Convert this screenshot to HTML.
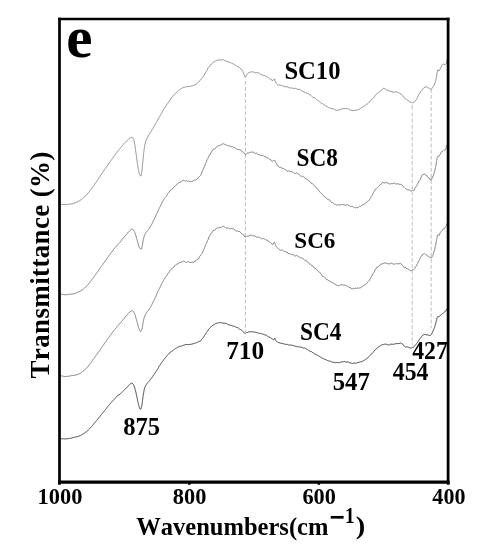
<!DOCTYPE html>
<html><head><meta charset="utf-8"><title>e</title>
<style>
html,body{margin:0;padding:0;background:#fff;}
svg{display:block;}
text{font-family:"Liberation Serif",serif;font-weight:bold;fill:#000;font-kerning:none;}
</style></head>
<body>
<svg width="478" height="550" viewBox="0 0 478 550">
<rect width="478" height="550" fill="#fff"/>
<!-- dashed guides -->
<g stroke="#adadad" stroke-width="0.8" stroke-dasharray="3.9,2.17" fill="none">
<line x1="245.4" y1="81" x2="245.4" y2="332.3"/>
<line x1="412.2" y1="104.9" x2="412.2" y2="109.3" stroke-dasharray="none"/>
<line x1="412.2" y1="112.6" x2="412.2" y2="344.6"/>
<line x1="431.2" y1="88.9" x2="431.2" y2="327.8"/>
</g>
<path d="M61.1,204.4 61.5,204.5 62.0,204.5 62.7,204.5 63.4,204.5 64.1,204.6 64.8,204.6 65.4,204.5 66.0,204.5 66.6,204.5 67.3,204.4 67.9,204.4 68.6,204.3 69.2,204.2 69.8,204.1 70.5,204.0 71.1,203.9 71.7,203.8 72.3,203.7 73.0,203.5 73.6,203.3 74.2,203.1 74.9,202.9 75.5,202.7 76.1,202.4 76.7,202.2 77.4,201.9 78.0,201.5 78.5,201.3 79.1,200.9 79.7,200.6 80.2,200.3 80.8,199.9 81.3,199.5 81.8,199.1 82.4,198.7 82.9,198.3 83.4,197.9 83.9,197.4 84.4,197.0 84.9,196.5 85.3,196.0 85.8,195.5 86.3,195.0 86.8,194.5 87.2,194.0 87.7,193.5 88.1,193.0 88.5,192.5 89.0,192.0 89.4,191.5 89.8,190.9 90.2,190.4 90.7,189.8 91.1,189.3 91.5,188.8 91.9,188.2 92.3,187.7 92.7,187.1 93.1,186.6 93.5,186.0 93.9,185.5 94.3,184.9 94.7,184.3 95.1,183.7 95.5,183.2 95.9,182.6 96.2,182.1 96.6,181.5 97.0,181.0 97.3,180.5 97.7,179.9 98.1,179.3 98.4,178.8 98.8,178.2 99.2,177.7 99.5,177.1 99.9,176.6 100.3,176.0 100.6,175.5 101.0,174.9 101.4,174.4 101.7,173.8 102.1,173.2 102.5,172.7 102.8,172.1 103.2,171.6 103.6,171.0 103.9,170.5 104.3,169.9 104.7,169.4 105.1,168.8 105.5,168.2 105.9,167.7 106.3,167.1 106.7,166.6 107.1,166.0 107.5,165.5 107.9,164.9 108.3,164.4 108.7,163.8 109.1,163.3 109.5,162.7 109.9,162.1 110.3,161.5 110.7,161.0 111.1,160.4 111.5,159.8 111.9,159.2 112.3,158.6 112.7,158.1 113.1,157.5 113.5,156.9 113.9,156.4 114.4,155.8 114.8,155.2 115.2,154.7 115.6,154.1 116.0,153.6 116.4,153.0 116.8,152.6 117.2,152.1 117.5,151.7 118.0,151.0 118.4,150.4 118.8,149.9 119.2,149.5 119.5,149.0 120.0,148.4 120.4,147.9 120.8,147.4 121.3,146.9 121.7,146.3 122.2,145.8 122.7,145.2 123.1,144.7 123.6,144.1 124.1,143.6 124.5,143.1 125.0,142.6 125.5,142.2 126.0,141.7 126.4,141.3 126.9,140.8 127.3,140.4 127.9,139.9 128.5,139.3 129.0,138.8 129.5,138.4 130.0,138.0 130.7,137.5 131.3,137.3 131.8,137.3 132.3,137.5 132.8,137.9 133.3,138.6 133.5,139.1 133.7,139.5 133.8,140.1 134.0,140.7 134.1,141.4 134.3,142.2 134.5,143.1 134.6,143.7 134.7,144.2 134.8,144.8 134.9,145.4 135.0,146.0 135.1,146.7 135.2,147.4 135.3,148.1 135.4,148.8 135.5,149.5 135.6,150.3 135.7,151.0 135.8,151.7 135.9,152.4 136.0,153.1 136.1,153.8 136.2,154.5 136.3,155.2 136.4,155.9 136.5,156.6 136.6,157.3 136.7,158.0 136.7,158.7 136.8,159.4 136.9,160.1 137.0,160.8 137.1,161.5 137.2,162.1 137.3,162.8 137.4,163.4 137.5,164.0 137.6,164.8 137.7,165.6 137.9,166.4 138.0,167.1 138.1,167.9 138.2,168.6 138.4,169.3 138.5,170.0 138.6,170.7 138.7,171.3 138.9,171.9 139.0,172.4 139.1,172.8 139.4,173.8 139.7,174.5 139.9,175.0 140.2,175.3 140.4,175.6 140.7,176.1 141.0,175.9 141.2,175.1 141.5,173.8 141.6,173.4 141.6,172.9 141.7,172.3 141.8,171.8 141.9,171.2 141.9,170.5 142.0,169.8 142.1,169.1 142.2,168.4 142.2,167.7 142.3,166.9 142.4,166.2 142.5,165.4 142.5,164.7 142.6,163.9 142.7,163.2 142.8,162.6 142.8,161.9 142.9,161.3 143.0,160.6 143.0,159.9 143.1,159.2 143.2,158.5 143.2,157.8 143.3,157.1 143.4,156.3 143.4,155.6 143.5,154.9 143.6,154.2 143.6,153.6 143.7,152.9 143.8,152.3 143.9,151.7 143.9,151.1 144.0,150.5 144.1,149.6 144.2,148.8 144.4,148.0 144.5,147.3 144.6,146.6 144.7,145.9 144.8,145.2 145.0,144.6 145.1,144.0 145.2,143.4 145.4,142.8 145.5,142.3 145.7,141.5 146.0,140.7 146.2,140.1 146.4,139.5 146.7,139.0 147.0,138.4 147.3,137.8 147.6,137.2 147.9,136.7 148.2,136.1 148.6,135.5 148.9,134.9 149.3,134.3 149.7,133.7 150.0,133.2 150.3,132.6 150.7,132.1 151.0,131.6 151.3,131.0 151.6,130.5 152.0,129.9 152.3,129.3 152.7,128.7 153.0,128.2 153.3,127.6 153.6,127.1 154.0,126.5 154.3,125.9 154.7,125.3 155.0,124.7 155.4,124.1 155.7,123.5 156.1,122.9 156.4,122.3 156.7,121.7 157.1,121.1 157.4,120.6 157.7,120.0 158.0,119.4 158.4,118.7 158.7,118.2 159.0,117.6 159.3,117.1 159.7,116.5 160.0,115.9 160.3,115.3 160.7,114.8 161.0,114.2 161.3,113.6 161.6,113.0 162.0,112.5 162.3,112.0 162.6,111.4 162.9,110.7 163.3,110.1 163.6,109.5 164.0,108.9 164.3,108.3 164.7,107.7 165.1,107.2 165.4,106.6 165.8,106.1 166.2,105.6 166.6,105.0 166.9,104.5 167.3,104.0 167.7,103.5 168.1,102.9 168.5,102.2 168.9,101.6 169.3,101.0 169.7,100.5 170.1,99.8 170.5,99.0 170.9,98.4 171.3,97.8 171.7,97.4 172.1,97.1 172.5,96.8 172.9,96.2 173.3,95.7 173.7,95.2 174.1,94.8 174.5,94.3 175.0,93.8 175.4,93.3 175.9,92.9 176.3,92.6 176.8,92.2 177.3,91.7 177.7,91.3 178.2,90.8 178.7,90.4 179.2,90.0 179.7,89.6 180.3,89.2 180.8,88.8 181.3,88.6 181.8,88.3 182.4,87.8 183.0,87.6 183.7,87.6 184.3,87.5 184.9,87.1 185.5,86.6 186.1,86.7 186.7,86.8 187.3,86.6 187.9,86.5 188.5,86.5 189.1,86.5 189.7,86.5 190.3,86.6 190.9,86.4 191.5,85.9 192.1,85.6 192.7,85.8 193.3,85.7 193.9,85.3 194.6,84.9 195.2,84.7 195.8,84.6 196.4,84.2 196.9,83.8 197.3,83.3 197.8,82.8 198.2,82.2 198.7,81.9 199.1,81.6 199.6,81.0 200.0,80.4 200.4,79.9 200.8,79.3 201.3,78.8 201.7,78.5 202.1,78.2 202.5,77.7 202.9,76.9 203.3,76.3 203.6,76.1 204.0,75.5 204.3,74.8 204.7,74.0 205.0,73.2 205.3,72.7 205.7,72.4 206.0,71.9 206.4,71.3 206.7,70.9 207.1,70.3 207.5,69.2 207.9,68.1 208.4,67.5 208.8,67.2 209.2,67.0 209.6,66.3 210.0,65.5 210.5,65.1 211.0,64.8 211.5,64.1 211.9,63.6 212.4,63.4 212.9,62.8 213.4,62.2 214.0,61.8 214.5,61.4 215.1,61.1 215.6,61.0 216.1,60.9 216.7,60.5 217.4,60.2 218.1,60.1 218.7,59.9 219.4,59.9 220.1,59.9 220.8,60.0 221.4,60.0 222.1,59.8 222.7,59.5 223.4,59.8 224.0,60.2 224.5,60.4 225.1,60.5 225.7,60.7 226.2,61.0 226.8,61.3 227.4,61.5 227.9,61.7 228.4,62.0 229.0,62.2 229.5,62.3 230.1,62.6 230.7,62.7 231.2,62.9 231.8,63.3 232.4,63.5 232.9,63.7 233.5,64.0 234.1,64.3 234.6,64.8 235.2,65.1 235.7,65.3 236.2,65.5 236.8,66.0 237.4,66.5 238.0,66.7 238.5,66.9 239.1,67.3 239.7,67.6 240.2,68.2 240.7,68.8 241.1,69.1 241.6,69.3 242.0,69.7 242.3,70.4 242.7,71.3 243.0,71.9 243.3,72.4 243.5,72.9 243.8,73.5 244.0,74.4 244.2,75.1 244.4,75.5 244.7,76.3 244.8,77.1 245.0,77.3 245.2,77.2 245.4,77.1 245.7,77.0 245.9,76.6 246.2,76.0 246.5,75.3 246.8,74.9 247.2,74.4 247.6,73.6 248.0,73.2 248.5,72.9 249.0,72.6 249.5,72.4 250.1,72.1 250.7,72.0 251.3,71.9 251.9,71.8 252.6,71.8 253.2,72.0 253.9,72.2 254.5,72.6 255.2,72.9 255.9,72.8 256.6,72.7 257.2,72.7 257.9,72.8 258.6,72.9 259.2,73.1 259.7,73.6 260.3,74.1 260.9,74.5 261.4,74.8 261.9,74.8 262.6,75.0 263.1,75.3 263.7,75.4 264.4,75.5 264.9,75.7 265.5,75.9 266.1,76.3 266.7,76.9 267.3,77.2 267.8,77.2 268.4,77.6 268.9,78.1 269.4,78.5 269.8,78.9 270.3,79.3 270.9,79.5 271.4,79.8 271.9,80.2 272.3,80.5 273.0,80.3 273.6,80.0 274.1,79.5 274.5,78.9 274.7,79.1 274.8,80.0 275.0,81.0 275.3,81.7 275.6,81.8 275.9,82.3 276.2,82.9 276.5,83.5 276.9,83.9 277.3,84.4 277.9,84.9 278.4,85.0 279.1,85.0 280.0,85.1 280.5,85.2 281.1,85.5 281.7,85.7 282.4,85.9 283.1,86.0 283.8,86.2 284.5,86.8 285.1,86.9 285.8,86.6 286.4,86.6 287.1,86.8 287.7,87.1 288.3,87.4 289.0,87.7 289.6,87.9 290.2,87.9 290.9,87.9 291.5,88.0 292.1,88.1 292.8,88.2 293.4,88.5 294.1,88.5 294.7,88.3 295.4,88.3 296.0,88.6 296.7,89.0 297.3,89.2 297.9,89.3 298.6,89.4 299.2,89.4 299.9,89.4 300.5,89.8 301.2,90.3 301.8,90.8 302.5,91.3 303.1,91.5 303.7,91.8 304.3,92.1 304.8,92.3 305.4,92.5 306.0,92.8 306.6,93.0 307.2,93.3 307.7,93.5 308.3,93.7 308.9,94.1 309.5,94.5 310.0,95.1 310.6,95.3 311.2,95.7 311.7,96.3 312.3,96.8 312.9,97.2 313.5,97.5 314.0,97.6 314.6,97.7 315.1,98.3 315.6,98.9 316.2,99.3 316.7,99.7 317.2,100.0 317.8,100.3 318.3,100.7 318.8,101.3 319.3,101.7 319.9,102.1 320.4,102.5 321.0,102.9 321.6,103.3 322.1,103.6 322.7,103.7 323.3,104.2 323.9,104.8 324.5,105.2 325.0,105.5 325.6,105.9 326.2,106.3 326.8,106.5 327.4,106.8 327.9,107.0 328.5,107.4 329.1,107.9 329.7,108.1 330.3,108.1 330.8,108.3 331.4,108.5 332.0,108.6 332.6,108.6 333.3,108.8 334.0,109.2 334.6,109.6 335.3,110.0 335.9,110.2 336.6,110.3 337.1,110.3 337.7,110.1 338.4,110.1 339.1,110.1 339.7,109.9 340.3,109.5 340.9,109.2 341.6,109.0 342.2,108.7 342.9,108.6 343.5,108.7 344.2,108.7 344.9,108.5 345.7,108.5 346.4,108.6 347.0,108.6 347.6,108.7 348.3,108.8 349.0,109.3 349.6,109.8 350.3,110.0 351.0,110.1 351.6,110.3 352.2,110.5 352.9,110.5 353.6,110.6 354.3,110.6 355.0,110.4 355.7,110.1 356.3,110.1 357.0,110.4 357.6,110.1 358.2,109.5 358.8,109.3 359.4,109.1 360.0,108.8 360.6,108.3 361.2,107.8 361.8,107.5 362.3,107.2 362.9,106.9 363.5,106.5 364.0,106.2 364.6,106.1 365.1,105.6 365.6,105.0 366.1,104.5 366.6,104.3 367.2,104.1 367.7,103.7 368.2,103.3 368.6,102.8 369.1,102.2 369.5,101.8 370.0,101.6 370.5,101.0 370.9,100.3 371.4,99.7 371.9,99.2 372.4,98.9 372.8,98.5 373.3,98.1 373.7,97.7 374.1,97.1 374.6,96.6 375.0,96.0 375.4,95.3 375.9,94.7 376.3,94.4 376.7,94.0 377.3,93.3 377.8,92.8 378.4,92.5 378.9,92.2 379.4,91.8 380.0,91.4 380.5,91.2 381.0,90.8 381.5,90.5 381.9,90.1 382.4,89.2 382.9,88.6 383.4,88.3 384.0,88.4 384.5,88.5 385.0,88.5 385.6,89.1 386.1,89.8 386.7,90.2 387.3,90.2 387.8,90.4 388.4,90.6 389.0,90.9 389.5,91.1 390.1,91.3 390.8,91.4 391.4,91.6 392.0,91.9 392.7,92.1 393.4,92.1 394.0,92.1 394.6,92.0 395.2,91.9 395.8,91.8 396.4,91.9 397.0,92.0 397.6,92.3 398.2,92.6 398.8,92.6 399.4,92.9 399.9,93.6 400.4,93.9 401.0,94.1 401.5,94.6 401.9,95.0 402.4,95.3 402.9,95.9 403.4,96.7 403.8,97.4 404.3,97.9 404.8,98.3 405.3,98.7 405.8,98.9 406.3,99.1 406.8,99.6 407.3,100.0 407.7,100.2 408.3,100.8 408.8,101.1 409.3,101.5 409.7,102.0 410.2,102.2 410.8,102.1 411.3,102.3 411.8,102.6 412.3,102.7 412.8,102.7 413.3,102.4 413.8,102.2 414.4,102.0 414.7,101.7 415.1,101.3 415.4,100.7 415.8,100.3 416.2,99.8 416.5,99.2 416.9,98.7 417.2,98.2 417.5,97.5 417.8,96.6 418.2,95.9 418.5,95.4 418.8,94.7 419.1,94.2 419.4,93.8 419.8,93.3 420.1,92.6 420.5,91.7 420.8,91.1 421.2,90.6 421.5,90.4 421.9,90.2 422.4,89.5 422.9,88.9 423.4,88.3 423.9,87.7 424.4,87.5 425.0,87.3 425.7,87.1 426.3,86.9 426.9,86.9 427.4,87.0 427.9,87.5 428.5,88.0 429.0,88.3 429.4,88.4 430.0,88.8 430.6,89.3 431.1,89.4 431.4,89.1 431.8,88.6 432.1,88.1 432.5,87.5 432.8,86.9 433.1,86.4 433.5,86.1 433.8,85.7 434.1,85.3 434.4,84.7 434.6,83.9 434.8,83.3 435.0,83.0 435.2,82.6 435.4,81.6 435.6,80.7 435.8,80.2 435.9,79.8 436.1,79.1 436.2,78.2 436.3,77.6 436.4,77.0 436.6,76.4 436.7,75.8 436.8,75.0 436.9,74.2 437.0,73.6 437.2,72.5 437.3,71.5 437.5,70.9 437.6,70.4 437.8,69.9 438.2,70.1 438.6,70.8 439.0,71.1 439.2,70.8 439.5,70.4 439.7,70.0 440.0,69.2 440.3,68.4 440.6,68.2 440.9,67.7 441.2,67.0 441.5,66.4 441.7,65.7 442.0,65.0 442.4,64.3 442.7,63.9 443.1,63.8 443.5,64.1 444.0,64.6 444.5,64.7 444.9,64.5 445.4,64.3 445.8,64.1 446.2,63.6 446.4,62.9 446.6,61.9 446.8,61.2 446.9,60.3 447.0,59.6" fill="none" stroke="#7c7c7c" stroke-width="0.85" stroke-linejoin="round" stroke-linecap="round"/>
<path d="M61.1,294.1 61.5,294.1 62.0,294.3 62.7,294.5 63.4,294.6 64.1,294.7 64.8,294.8 65.4,294.7 66.0,294.6 66.6,294.6 67.3,294.7 67.9,294.6 68.6,294.4 69.2,294.2 69.8,294.1 70.5,294.1 71.1,294.1 71.7,294.1 72.3,294.0 73.0,293.9 73.6,293.8 74.2,293.7 74.9,293.5 75.5,293.3 76.1,293.0 76.7,292.8 77.4,292.4 78.0,292.1 78.5,291.8 79.1,291.6 79.7,291.5 80.2,291.2 80.8,290.7 81.3,290.4 81.8,290.2 82.4,289.9 82.9,289.5 83.4,289.0 83.9,288.6 84.4,288.3 84.9,287.8 85.3,287.3 85.8,286.9 86.3,286.6 86.8,286.1 87.2,285.5 87.7,285.0 88.1,284.5 88.5,283.9 89.0,283.5 89.4,283.0 89.8,282.4 90.2,281.8 90.7,281.2 91.1,280.7 91.5,280.2 91.9,279.7 92.3,279.1 92.7,278.6 93.1,277.9 93.5,277.4 93.9,277.0 94.3,276.5 94.7,275.9 95.1,275.2 95.5,274.7 95.9,274.2 96.3,273.6 96.7,273.2 97.1,272.6 97.5,272.0 97.9,271.5 98.3,270.9 98.7,270.2 99.1,269.7 99.5,269.1 99.9,268.4 100.3,267.9 100.7,267.4 101.1,266.7 101.5,266.2 101.9,265.7 102.3,265.2 102.7,264.6 103.1,263.9 103.5,263.3 103.9,262.9 104.3,262.3 104.7,261.7 105.1,261.1 105.5,260.6 105.9,260.0 106.3,259.5 106.7,258.9 107.1,258.3 107.5,257.8 107.9,257.3 108.3,256.7 108.7,256.1 109.1,255.5 109.5,255.0 109.9,254.5 110.3,253.9 110.7,253.3 111.1,252.9 111.5,252.5 111.9,252.0 112.3,251.3 112.7,250.6 113.1,250.1 113.5,249.5 114.0,248.9 114.5,248.3 115.0,247.8 115.4,247.3 115.9,246.7 116.3,246.2 116.7,245.8 117.1,245.5 117.5,244.9 118.0,244.3 118.4,243.9 118.8,243.5 119.2,243.2 119.6,242.8 120.0,242.4 120.4,241.8 120.8,241.3 121.2,240.7 121.6,240.1 122.0,239.6 122.4,239.0 122.9,238.5 123.3,238.0 123.7,237.5 124.2,237.0 124.6,236.4 125.1,236.0 125.5,235.6 125.9,235.0 126.3,234.5 126.7,234.0 127.2,233.4 127.6,233.0 128.0,232.8 128.4,232.4 128.8,231.8 129.2,231.3 129.8,230.7 130.3,230.2 130.9,229.8 131.4,229.4 132.0,229.2 132.6,229.3 133.1,229.8 133.4,230.3 133.7,230.7 134.1,231.2 134.4,231.8 134.7,232.3 134.9,232.8 135.1,233.4 135.3,233.9 135.5,234.5 135.8,235.3 136.0,236.0 136.2,236.7 136.4,237.5 136.6,238.3 136.7,238.8 136.9,239.2 137.1,239.7 137.3,240.5 137.4,241.2 137.6,241.7 137.8,242.3 137.9,243.0 138.1,243.5 138.3,244.2 138.5,245.0 138.7,245.8 138.9,246.3 139.1,246.9 139.3,247.5 139.5,248.0 139.7,248.3 140.3,248.9 140.9,248.9 141.1,249.1 141.4,249.1 141.6,248.5 141.9,247.7 142.1,246.6 142.2,246.0 142.3,245.5 142.4,245.0 142.6,244.3 142.7,243.5 142.8,242.7 142.9,241.9 143.0,241.0 143.2,240.4 143.3,239.8 143.4,239.3 143.6,238.5 143.8,237.6 144.0,237.0 144.2,236.4 144.4,235.7 144.6,235.1 144.8,234.6 145.1,234.1 145.4,233.5 145.7,232.9 146.1,232.4 146.4,232.0 146.8,231.4 147.2,231.0 147.6,230.5 148.0,230.0 148.4,229.6 148.9,229.2 149.3,228.5 149.6,228.0 149.9,227.5 150.2,227.0 150.5,226.5 150.9,226.0 151.2,225.4 151.5,224.8 151.8,224.2 152.1,223.6 152.4,222.9 152.7,222.2 153.0,221.5 153.4,220.8 153.7,220.2 154.0,219.7 154.3,219.0 154.6,218.3 154.9,217.7 155.1,217.0 155.4,216.6 155.7,216.0 156.0,215.4 156.2,214.8 156.5,214.2 156.8,213.6 157.1,213.1 157.4,212.4 157.6,211.8 157.9,211.2 158.2,210.6 158.5,209.8 158.7,209.1 159.0,208.7 159.3,208.2 159.6,207.6 159.9,207.1 160.2,206.5 160.5,205.8 160.9,205.0 161.2,204.3 161.5,203.6 161.8,203.0 162.1,202.4 162.4,201.9 162.8,201.4 163.1,200.8 163.4,200.1 163.8,199.5 164.1,199.1 164.4,198.6 164.8,198.1 165.1,197.6 165.5,197.2 165.8,196.9 166.2,196.5 166.5,195.8 166.9,195.2 167.3,194.5 167.7,193.5 168.2,192.8 168.6,192.6 169.0,192.2 169.4,191.7 169.8,191.0 170.2,190.3 170.7,190.0 171.1,190.1 171.5,189.7 171.9,189.2 172.4,188.8 172.9,188.1 173.4,187.5 173.9,187.2 174.4,186.6 174.8,186.2 175.2,185.9 175.7,185.6 176.1,185.4 176.5,184.8 176.9,184.0 177.4,183.6 177.9,183.4 178.4,183.0 178.9,182.6 179.4,182.5 180.0,182.3 180.7,182.0 181.3,181.7 181.9,180.9 182.5,180.5 183.1,180.5 183.6,180.2 184.1,180.3 184.7,180.8 185.3,181.2 185.9,181.1 186.5,180.7 187.2,181.1 187.8,181.7 188.4,181.2 189.0,180.7 189.6,181.3 190.3,181.8 190.9,181.8 191.6,181.4 192.2,181.1 192.9,181.3 193.6,180.8 194.2,180.1 194.7,180.1 195.3,180.2 195.9,179.9 196.5,179.5 197.0,179.1 197.5,178.8 197.9,178.3 198.3,177.7 198.8,177.1 199.2,176.8 199.6,176.4 200.0,176.1 200.3,175.7 200.7,175.0 201.0,174.5 201.3,174.0 201.6,173.1 201.9,172.1 202.2,171.3 202.5,170.9 202.8,170.7 203.0,170.1 203.2,169.3 203.5,168.1 203.8,167.3 204.0,167.0 204.2,166.7 204.5,166.8 204.8,166.1 205.0,164.7 205.3,164.0 205.5,163.6 205.7,163.1 206.0,162.7 206.2,162.4 206.5,161.8 206.7,160.7 207.0,159.8 207.2,159.5 207.5,159.2 207.8,158.6 208.1,157.9 208.4,157.3 208.7,156.5 209.1,155.6 209.4,155.1 209.7,155.1 210.0,154.9 210.4,153.9 210.7,152.9 211.1,152.4 211.5,151.6 211.9,150.9 212.2,150.9 212.6,150.7 213.0,149.7 213.4,149.0 213.9,149.0 214.3,149.1 214.7,148.6 215.1,148.3 215.6,148.2 216.1,147.8 216.6,147.0 217.1,146.4 217.6,146.1 218.2,145.9 218.7,145.7 219.4,145.4 220.1,145.5 220.6,145.2 221.2,144.8 221.9,144.5 222.5,143.8 223.2,143.6 223.8,144.0 224.3,144.2 225.0,144.5 225.6,144.8 226.2,145.0 226.8,145.1 227.3,145.4 227.8,145.7 228.4,145.9 229.0,146.0 229.5,145.9 230.1,145.9 230.7,146.5 231.2,146.9 231.8,146.6 232.4,146.5 232.9,147.1 233.5,147.6 234.1,147.5 234.6,147.7 235.2,148.1 235.7,148.4 236.2,148.8 236.8,149.2 237.4,149.2 238.0,149.4 238.5,149.7 239.1,149.7 239.7,149.5 240.2,149.6 240.8,150.2 241.3,151.1 241.8,151.3 242.3,151.6 242.7,151.8 243.2,152.1 243.7,152.7 244.1,153.0 244.4,153.1 244.8,154.1 245.2,154.5 245.5,154.4 245.9,154.5 246.3,154.3 246.9,153.5 247.5,153.1 248.1,153.1 248.8,152.9 249.5,152.6 250.2,152.2 250.9,152.1 251.5,152.2 252.2,152.1 252.9,152.0 253.6,152.4 254.1,152.7 254.7,153.0 255.3,153.4 255.9,153.4 256.5,153.1 257.1,153.5 257.7,154.4 258.3,154.7 258.9,154.6 259.5,154.9 260.2,155.1 260.8,155.3 261.3,155.8 261.9,155.8 262.5,155.3 263.1,155.3 263.7,156.1 264.2,156.6 264.7,156.6 265.3,156.3 265.9,156.8 266.4,157.6 267.0,157.7 267.6,158.0 268.1,158.3 268.6,158.4 269.2,158.9 269.7,159.5 270.2,159.4 270.7,159.6 271.1,160.3 271.7,161.1 272.3,161.3 272.8,161.1 273.4,160.6 274.0,160.0 274.5,160.2 274.8,160.7 275.1,160.8 275.3,161.3 275.6,162.4 275.9,162.9 276.2,163.1 276.5,163.7 276.9,164.7 277.3,165.7 277.7,165.6 278.0,165.5 278.4,166.2 278.8,166.9 279.4,167.6 280.0,167.7 280.5,167.4 281.1,167.7 281.7,168.0 282.4,168.3 283.1,168.5 283.8,168.7 284.5,169.2 285.1,169.5 285.8,169.8 286.4,170.6 287.1,171.1 287.7,171.1 288.3,171.1 289.0,170.9 289.6,171.1 290.2,171.4 290.9,171.5 291.5,171.6 292.1,171.8 292.8,172.1 293.4,172.5 294.1,173.2 294.7,173.6 295.4,173.3 296.0,173.1 296.7,172.8 297.3,173.2 297.9,174.0 298.5,174.2 299.0,174.3 299.6,175.0 300.2,175.6 300.8,176.0 301.4,176.4 301.9,176.1 302.5,176.0 303.1,176.6 303.6,177.1 304.2,177.3 304.7,177.6 305.2,178.3 305.7,179.0 306.3,178.9 306.8,179.0 307.3,179.4 307.9,179.8 308.4,180.6 308.9,181.1 309.4,181.2 309.9,181.5 310.5,182.3 311.0,183.2 311.5,183.4 312.0,183.2 312.5,183.6 313.0,184.4 313.6,184.9 314.1,185.4 314.6,186.0 315.0,186.6 315.5,187.3 315.9,187.7 316.4,187.9 316.8,188.2 317.3,188.7 317.7,189.5 318.2,190.0 318.6,190.3 319.1,190.7 319.5,191.5 320.0,192.4 320.4,192.6 320.8,192.9 321.3,193.3 321.7,193.5 322.2,194.0 322.6,194.6 323.1,195.2 323.5,195.9 324.0,196.5 324.4,196.9 324.9,197.0 325.3,197.2 325.8,197.6 326.2,197.8 326.7,198.3 327.3,199.1 327.8,199.7 328.3,199.7 328.8,199.7 329.4,199.8 329.9,200.2 330.4,201.2 331.0,202.1 331.5,202.4 332.0,202.4 332.6,202.5 333.2,203.0 333.8,203.6 334.4,204.1 335.0,204.4 335.6,204.4 336.1,204.7 336.7,205.1 337.2,205.2 337.7,204.9 338.4,204.5 339.1,204.7 339.7,205.1 340.3,205.0 340.9,204.8 341.6,204.5 342.2,204.5 342.9,204.7 343.5,204.7 344.2,204.8 344.9,205.0 345.7,205.3 346.4,205.1 347.0,204.6 347.6,204.7 348.3,205.2 349.0,205.4 349.6,205.7 350.3,206.4 351.0,206.6 351.6,206.4 352.2,206.3 352.9,206.7 353.6,207.0 354.3,207.2 355.0,207.9 355.7,208.1 356.3,207.4 357.0,207.2 357.6,207.7 358.2,207.5 358.8,206.7 359.4,206.3 360.0,206.4 360.6,206.5 361.2,206.1 361.8,205.4 362.3,204.9 362.9,204.7 363.5,204.6 364.0,204.6 364.6,204.1 365.1,203.4 365.6,202.9 366.1,202.8 366.6,202.6 367.1,201.8 367.6,201.1 368.0,200.8 368.4,200.6 368.9,200.5 369.2,200.3 369.6,199.7 370.0,198.9 370.4,198.1 370.8,197.6 371.1,196.9 371.5,196.2 371.8,195.9 372.2,195.5 372.5,194.8 372.9,193.6 373.2,192.8 373.6,192.4 373.9,191.9 374.3,191.3 374.6,190.5 375.0,189.6 375.4,189.3 375.8,189.4 376.2,188.8 376.7,188.1 377.1,187.7 377.5,187.5 377.9,187.3 378.3,186.7 378.7,186.3 379.2,185.8 379.6,185.2 380.0,185.2 380.5,184.9 381.0,184.0 381.5,183.5 382.0,182.9 382.6,182.4 383.2,182.6 383.9,183.1 384.6,183.1 385.3,182.7 385.9,182.5 386.6,182.7 387.2,183.0 387.8,183.1 388.4,183.1 389.0,183.4 389.6,183.9 390.2,184.2 390.9,183.8 391.5,183.5 392.2,183.6 392.9,183.7 393.6,183.4 394.3,183.1 395.0,183.5 395.6,183.9 396.3,184.0 396.9,183.8 397.6,183.7 398.3,184.0 399.0,184.2 399.7,184.3 400.4,184.3 401.0,184.4 401.5,184.6 401.9,185.2 402.3,185.5 402.7,185.6 403.1,186.3 403.5,186.8 404.0,187.2 404.5,187.8 405.0,188.3 405.5,188.5 406.0,188.8 406.6,189.3 407.2,189.7 407.9,189.7 408.5,189.7 409.2,190.1 409.8,190.5 410.5,190.8 411.0,191.0 411.7,190.9 412.3,190.3 412.7,190.1 413.1,190.2 413.5,190.6 413.9,190.7 414.4,189.8 414.7,188.6 415.1,187.9 415.4,187.8 415.8,187.2 416.2,186.5 416.5,186.1 416.9,185.5 417.2,184.4 417.5,183.7 417.8,183.5 418.2,183.0 418.5,182.0 418.8,181.2 419.1,180.9 419.4,180.8 419.8,180.3 420.1,179.8 420.5,179.0 420.8,178.0 421.2,177.2 421.5,176.2 421.9,175.3 422.5,174.8 423.2,174.6 423.8,174.1 424.4,174.0 424.9,174.4 425.4,175.0 425.9,175.0 426.4,175.1 426.9,175.9 427.4,176.9 427.9,177.4 428.5,177.6 429.0,177.9 429.4,178.1 430.0,179.0 430.6,180.2 431.1,180.1 431.4,179.3 431.8,178.6 432.1,178.1 432.5,177.1 432.8,176.4 433.0,176.5 433.2,176.3 433.4,175.7 433.6,174.8 433.8,173.9 434.0,173.4 434.2,172.6 434.4,172.0 434.6,171.7 434.7,171.5 434.9,171.0 435.0,169.9 435.2,168.7 435.4,168.0 435.5,167.4 435.7,166.5 435.8,165.7 435.9,165.4 436.0,165.0 436.2,164.0 436.3,163.0 436.4,162.3 436.5,161.3 436.6,160.7 436.7,160.6 436.8,160.3 436.9,159.5 437.0,158.6 437.2,157.6 437.4,157.3 437.6,157.1 437.8,156.4 438.4,156.2 439.0,156.5 439.2,156.0 439.5,155.3 439.7,155.0 440.0,154.5 440.3,154.0 440.7,153.1 441.1,152.2 441.5,151.8 442.0,151.5 442.5,151.2 443.0,151.2 443.5,150.7 444.0,150.2 444.5,150.1 444.9,149.9 445.3,149.7 445.6,149.4 445.9,148.9 446.2,147.6 446.4,146.2 446.6,145.3 446.8,145.0 446.9,145.1 447.0,145.0" fill="none" stroke="#6c6c6c" stroke-width="0.85" stroke-linejoin="round" stroke-linecap="round"/>
<path d="M61.1,375.8 61.5,375.9 62.0,375.9 62.7,376.1 63.4,376.3 64.1,376.5 64.8,376.6 65.4,376.6 66.0,376.6 66.6,376.4 67.3,376.3 67.9,376.3 68.6,376.3 69.2,376.2 69.8,376.0 70.5,375.8 71.1,375.7 71.7,375.6 72.3,375.6 73.0,375.5 73.6,375.3 74.2,375.3 74.9,375.3 75.5,375.1 76.1,374.9 76.7,374.8 77.4,374.6 78.0,374.4 78.5,374.1 79.1,373.9 79.7,373.7 80.2,373.4 80.8,372.8 81.3,372.4 81.8,371.9 82.4,371.5 82.9,371.1 83.4,370.9 83.9,370.6 84.4,370.1 84.9,369.6 85.3,369.2 85.8,368.8 86.3,368.2 86.8,367.7 87.2,367.3 87.7,366.8 88.1,366.3 88.5,365.7 89.0,365.3 89.4,364.9 89.8,364.4 90.2,363.8 90.7,363.2 91.1,362.6 91.5,362.0 91.9,361.4 92.3,360.8 92.7,360.2 93.1,359.6 93.5,359.2 93.9,358.7 94.3,358.1 94.7,357.6 95.1,356.9 95.5,356.3 95.9,355.7 96.3,355.1 96.7,354.7 97.1,354.2 97.5,353.5 97.9,352.9 98.3,352.4 98.7,351.9 99.1,351.3 99.5,350.7 99.9,350.1 100.3,349.5 100.7,348.9 101.1,348.3 101.5,347.7 101.9,347.2 102.3,346.6 102.7,346.0 103.1,345.5 103.5,344.9 103.9,344.3 104.3,343.6 104.7,342.9 105.1,342.4 105.5,341.9 105.9,341.4 106.3,340.8 106.7,340.3 107.1,339.8 107.5,339.2 107.9,338.7 108.3,338.1 108.7,337.6 109.1,337.2 109.5,336.6 109.9,335.9 110.3,335.4 110.7,334.9 111.1,334.4 111.5,333.8 111.9,333.2 112.3,332.7 112.7,332.2 113.1,331.7 113.5,331.0 114.0,330.4 114.5,329.9 115.0,329.3 115.4,328.7 115.9,328.2 116.3,327.7 116.7,327.1 117.1,326.6 117.5,326.2 118.0,325.6 118.4,325.1 118.8,324.6 119.2,324.2 119.6,323.9 120.0,323.4 120.4,323.0 120.8,322.5 121.2,321.9 121.6,321.4 122.0,321.0 122.4,320.6 122.9,320.0 123.3,319.4 123.7,318.9 124.2,318.4 124.6,317.8 125.1,317.4 125.5,316.8 125.9,316.2 126.3,315.8 126.7,315.5 127.2,315.0 127.6,314.4 128.0,313.9 128.4,313.4 128.8,313.0 129.2,312.5 129.8,312.0 130.3,311.5 130.9,311.1 131.4,310.8 132.0,310.7 132.6,310.8 133.1,311.3 133.4,311.6 133.7,312.0 134.1,312.6 134.4,313.3 134.7,314.1 134.9,314.5 135.1,315.0 135.3,315.6 135.4,316.2 135.6,317.0 135.8,317.5 136.0,318.1 136.2,318.8 136.4,319.4 136.6,320.1 136.7,320.7 136.9,321.3 137.1,321.9 137.3,322.6 137.4,323.2 137.6,323.8 137.8,324.4 137.9,325.2 138.1,325.8 138.3,326.6 138.5,327.3 138.7,327.9 138.9,328.4 139.1,329.0 139.3,329.4 139.5,329.9 139.7,330.4 140.3,331.3 140.8,331.4 141.0,331.4 141.2,331.2 141.4,330.6 141.7,330.0 141.9,329.3 142.1,328.4 142.2,327.9 142.3,327.4 142.5,326.7 142.6,325.9 142.7,325.1 142.8,324.3 142.9,323.6 143.0,322.9 143.2,322.2 143.3,321.6 143.4,321.1 143.6,320.3 143.7,319.5 143.9,318.7 144.1,318.1 144.2,317.5 144.4,317.0 144.6,316.4 144.8,315.9 145.1,315.2 145.4,314.6 145.7,314.1 146.1,313.5 146.4,312.9 146.8,312.3 147.1,311.8 147.5,311.3 147.8,310.9 148.2,310.5 148.6,310.1 148.9,309.5 149.3,308.9 149.6,308.5 149.9,308.1 150.2,307.6 150.5,307.0 150.9,306.4 151.2,305.8 151.5,305.3 151.8,304.8 152.1,304.1 152.4,303.4 152.7,302.8 153.0,302.1 153.4,301.4 153.7,300.9 154.0,300.5 154.3,299.8 154.6,299.2 154.9,298.6 155.1,298.1 155.4,297.4 155.7,296.9 156.0,296.2 156.2,295.5 156.5,294.8 156.8,293.9 157.1,293.3 157.4,292.8 157.6,292.2 157.9,291.5 158.2,290.9 158.5,290.4 158.7,290.1 159.0,289.4 159.3,288.7 159.6,288.2 159.9,287.5 160.1,287.0 160.4,286.5 160.7,285.8 161.0,285.1 161.2,284.6 161.5,284.0 161.8,283.4 162.1,282.9 162.4,282.4 162.8,281.9 163.1,281.4 163.4,280.7 163.8,280.2 164.1,279.5 164.4,278.7 164.8,278.2 165.1,277.7 165.5,277.2 165.8,276.7 166.2,276.1 166.5,275.6 166.9,275.5 167.3,275.0 167.6,274.2 168.0,273.5 168.3,273.1 168.7,272.9 169.0,272.3 169.4,271.4 169.8,270.7 170.2,270.1 170.7,269.5 171.1,269.1 171.5,268.8 171.9,268.5 172.4,268.4 172.9,267.9 173.4,267.0 173.9,266.4 174.4,266.2 174.9,266.0 175.4,265.2 175.9,264.6 176.4,264.4 176.9,264.2 177.5,263.9 178.2,263.7 178.8,263.4 179.4,262.9 180.0,262.5 180.7,262.4 181.3,262.1 181.9,261.7 182.5,261.6 183.2,261.3 183.8,261.1 184.4,261.3 185.0,261.9 185.6,262.2 186.2,262.4 186.9,262.3 187.5,261.7 188.2,261.4 188.9,261.9 189.6,262.4 190.3,262.4 191.0,262.5 191.6,262.4 192.3,262.0 192.9,262.4 193.6,262.5 194.1,261.7 194.6,261.0 195.1,261.0 195.6,260.9 196.1,260.6 196.5,260.1 197.0,259.5 197.5,259.0 197.9,259.2 198.3,259.2 198.8,258.4 199.2,257.3 199.6,256.5 200.0,255.7 200.4,255.6 200.8,255.3 201.1,254.7 201.5,254.3 201.8,253.9 202.1,253.4 202.5,252.6 202.8,251.7 203.0,250.7 203.2,250.1 203.5,249.9 203.8,249.6 204.0,249.2 204.2,248.6 204.5,247.6 204.8,246.9 205.0,246.5 205.3,246.0 205.5,245.3 205.7,244.8 206.0,244.4 206.2,243.8 206.5,243.2 206.7,242.7 207.0,242.0 207.2,241.1 207.5,240.6 207.8,240.1 208.1,239.6 208.3,239.1 208.6,238.0 208.9,237.1 209.2,236.7 209.4,236.3 209.7,235.6 210.0,235.1 210.4,234.4 210.7,233.8 211.1,233.6 211.5,233.3 211.9,232.7 212.2,232.2 212.6,231.8 213.0,231.0 213.4,230.2 213.9,230.0 214.3,230.2 214.7,230.2 215.1,230.0 215.7,229.2 216.3,228.4 217.0,227.9 217.6,227.8 218.2,228.0 218.8,227.8 219.4,227.3 220.1,227.3 220.7,227.6 221.4,227.6 222.0,227.0 222.7,226.5 223.4,226.3 224.0,226.5 224.5,226.8 225.1,227.3 225.7,227.8 226.2,228.0 226.8,228.0 227.5,227.9 228.1,228.0 228.8,228.2 229.4,228.5 230.1,228.9 230.8,228.6 231.5,228.3 232.1,228.6 232.8,228.7 233.5,228.7 234.1,229.3 234.6,230.2 235.2,230.6 235.7,230.6 236.2,231.0 236.8,231.1 237.4,230.9 238.0,231.1 238.5,231.5 239.1,231.5 239.7,231.5 240.2,232.0 240.8,232.9 241.3,233.5 241.8,233.7 242.3,233.9 242.7,234.4 243.1,234.6 243.5,234.7 243.8,235.4 244.1,236.0 244.4,236.4 244.8,237.0 245.2,237.2 245.6,236.9 246.2,236.4 246.9,236.4 247.5,236.2 248.1,236.0 248.8,236.0 249.5,235.6 250.2,235.3 250.9,235.1 251.5,235.0 252.2,235.5 252.9,236.0 253.6,235.9 254.1,235.7 254.7,235.8 255.3,236.3 255.9,237.0 256.5,237.2 257.1,237.0 257.7,237.1 258.3,237.1 258.9,237.2 259.5,237.4 260.2,237.7 260.8,238.3 261.3,238.7 261.9,238.7 262.6,238.5 263.3,238.4 264.0,238.6 264.6,238.9 265.3,239.4 265.9,239.9 266.4,240.1 267.0,240.0 267.6,240.2 268.1,241.2 268.6,241.6 269.2,241.5 269.7,242.1 270.2,242.6 270.7,242.9 271.1,243.3 271.7,243.6 272.3,244.0 272.8,244.6 273.2,244.0 273.7,243.1 274.1,242.4 274.5,242.1 274.7,242.6 275.0,243.2 275.1,243.7 275.4,244.6 275.6,245.4 275.9,246.0 276.2,246.4 276.5,247.1 276.9,247.5 277.3,247.8 277.7,248.2 278.2,248.4 278.6,248.9 279.2,249.5 280.0,250.0 280.5,250.3 281.1,250.4 281.7,250.0 282.4,250.0 283.1,250.6 283.8,251.2 284.5,251.5 285.1,251.7 285.8,252.0 286.4,251.8 287.1,252.0 287.7,253.0 288.3,253.8 289.0,253.6 289.6,253.5 290.2,254.0 290.9,254.5 291.5,254.6 292.1,254.5 292.8,254.5 293.4,254.9 294.1,255.4 294.7,255.9 295.4,256.0 296.0,255.5 296.7,255.5 297.3,255.8 297.9,256.2 298.5,256.6 299.0,257.0 299.6,257.4 300.2,257.8 300.8,257.7 301.4,257.6 301.9,257.7 302.5,258.2 303.1,258.5 303.6,258.9 304.2,259.8 304.7,260.3 305.2,260.3 305.7,260.4 306.3,260.6 306.8,261.5 307.3,262.1 307.9,262.1 308.4,262.7 308.9,263.5 309.4,263.7 309.9,264.1 310.5,264.5 311.0,264.7 311.5,265.5 312.0,266.0 312.5,265.9 313.0,266.2 313.6,267.0 314.1,267.9 314.6,268.4 315.1,268.5 315.6,268.5 316.0,268.8 316.5,269.6 317.0,270.0 317.5,270.3 318.0,270.9 318.5,271.7 318.9,272.1 319.4,272.3 319.9,272.7 320.4,273.0 320.9,273.4 321.4,274.3 321.8,275.5 322.3,276.2 322.8,276.2 323.3,276.4 323.8,276.7 324.3,276.8 324.8,277.3 325.2,277.8 325.7,278.7 326.2,279.3 326.8,279.3 327.4,279.6 327.9,280.3 328.5,280.6 329.1,280.9 329.7,281.0 330.3,281.1 330.8,281.8 331.4,282.5 332.0,282.7 332.6,282.7 333.2,283.0 333.8,283.5 334.4,283.9 335.0,284.0 335.6,284.3 336.1,284.9 336.7,285.3 337.2,285.4 337.7,285.6 338.4,285.9 339.1,285.8 339.7,285.3 340.3,284.8 340.9,284.7 341.6,284.8 342.2,285.1 342.7,285.1 343.3,285.0 343.9,284.9 344.5,285.1 345.1,285.5 345.7,285.6 346.4,285.7 346.9,285.8 347.5,286.0 348.1,286.6 348.7,287.3 349.3,287.6 349.9,287.5 350.5,287.6 351.1,288.0 351.7,288.8 352.2,289.0 352.9,288.5 353.6,288.4 354.3,288.5 355.0,288.3 355.7,288.1 356.3,288.4 357.0,288.4 357.6,288.0 358.2,288.1 358.8,288.3 359.4,288.0 360.0,287.8 360.6,287.9 361.2,287.3 361.8,286.6 362.3,286.4 362.9,286.0 363.5,285.6 364.0,285.3 364.6,285.0 365.1,284.7 365.6,284.6 366.1,284.3 366.6,283.7 367.0,283.2 367.5,282.6 367.9,281.7 368.3,281.4 368.6,281.1 369.0,280.6 369.3,280.6 369.7,280.3 370.0,279.3 370.4,278.4 370.8,277.9 371.1,277.2 371.5,276.4 371.8,276.1 372.2,275.3 372.5,274.2 372.8,273.8 373.1,273.7 373.4,273.3 373.8,272.7 374.1,272.2 374.4,271.5 374.7,270.5 375.0,269.7 375.4,269.6 375.8,269.4 376.2,268.4 376.7,267.5 377.1,267.4 377.5,267.6 378.0,266.9 378.5,266.1 379.0,265.9 379.5,265.6 380.0,265.1 380.5,264.3 381.0,263.9 381.5,264.0 382.0,264.1 382.6,263.8 383.2,263.6 383.9,263.3 384.6,263.0 385.3,262.9 385.9,263.0 386.6,263.4 387.2,263.6 387.8,263.7 388.4,263.9 389.0,264.0 389.6,263.8 390.2,263.6 390.9,263.3 391.5,263.1 392.2,263.6 392.9,263.9 393.6,263.9 394.3,264.2 395.0,264.3 395.6,263.7 396.3,263.6 396.9,263.9 397.6,263.8 398.3,263.7 399.0,263.8 399.7,263.6 400.4,263.4 401.0,263.7 401.5,264.3 401.9,265.0 402.3,265.5 402.7,265.9 403.1,266.2 403.5,266.5 404.0,267.2 404.5,267.9 405.0,267.8 405.5,267.4 406.0,268.0 406.6,268.8 407.2,268.7 407.9,269.0 408.5,269.4 409.2,269.6 409.8,270.4 410.5,270.7 411.0,270.6 411.7,270.5 412.3,270.0 412.8,269.6 413.3,269.7 413.8,269.4 414.4,268.8 414.7,268.4 415.1,267.6 415.4,266.9 415.8,266.6 416.2,266.4 416.5,266.0 416.9,265.0 417.2,264.1 417.5,263.7 417.7,263.1 418.0,262.1 418.3,261.6 418.6,261.5 418.8,261.0 419.1,260.4 419.4,259.8 419.8,259.1 420.1,258.4 420.5,257.5 420.8,256.7 421.2,256.1 421.5,255.9 421.9,255.9 422.5,254.9 423.2,254.0 423.8,253.6 424.4,253.5 424.9,253.7 425.4,254.1 425.9,254.6 426.4,255.0 426.9,255.2 427.4,255.8 427.9,256.2 428.5,256.4 429.0,256.9 429.4,257.3 430.0,257.5 430.6,257.7 431.1,257.7 431.4,257.9 431.7,257.5 432.0,257.0 432.2,256.5 432.5,255.8 432.8,255.5 433.0,255.2 433.2,254.5 433.4,253.6 433.6,252.5 433.8,251.9 434.0,251.8 434.2,251.1 434.4,250.4 434.6,250.1 434.7,249.2 434.9,248.4 435.0,247.8 435.2,247.0 435.4,246.2 435.5,245.8 435.7,245.6 435.8,244.5 435.9,242.9 436.0,242.4 436.2,242.4 436.3,241.8 436.4,241.2 436.5,240.4 436.6,239.6 436.7,239.2 436.8,238.8 436.9,238.2 437.0,237.8 437.2,236.9 437.3,235.9 437.5,235.4 437.6,235.2 437.8,234.8 438.4,234.9 439.0,235.5 439.2,235.4 439.5,234.8 439.7,233.9 440.0,233.2 440.3,232.5 440.7,231.8 441.1,231.5 441.5,231.0 442.0,230.5 442.5,230.2 443.0,229.3 443.5,228.6 444.0,228.6 444.5,228.5 444.9,228.0 445.3,227.3 445.6,226.7 445.9,226.1 446.2,225.8 446.5,225.6 446.7,225.1 446.9,224.3 447.0,223.6" fill="none" stroke="#6a6a6a" stroke-width="0.85" stroke-linejoin="round" stroke-linecap="round"/>
<path d="M61.1,438.8 61.5,438.8 62.0,438.8 62.7,438.8 63.4,438.8 64.1,438.9 64.8,438.9 65.4,438.8 66.0,438.8 66.6,438.8 67.3,438.8 67.9,438.7 68.6,438.6 69.2,438.5 69.8,438.4 70.5,438.3 71.1,438.2 71.7,438.0 72.3,437.8 73.0,437.6 73.6,437.5 74.2,437.3 74.9,437.2 75.5,437.1 76.1,437.0 76.7,436.8 77.4,436.6 78.0,436.4 78.5,436.3 79.1,436.0 79.7,435.8 80.2,435.6 80.8,435.3 81.3,435.0 81.8,434.7 82.4,434.4 83.0,434.1 83.5,433.7 84.1,433.4 84.6,433.0 85.2,432.6 85.7,432.2 86.3,431.8 86.8,431.3 87.3,430.9 87.8,430.5 88.2,430.0 88.7,429.6 89.2,429.1 89.7,428.6 90.1,428.1 90.6,427.6 91.1,427.1 91.5,426.6 92.0,426.1 92.4,425.6 92.9,425.1 93.3,424.5 93.7,424.0 94.2,423.4 94.6,422.9 95.1,422.4 95.5,421.8 95.9,421.3 96.4,420.8 96.8,420.2 97.3,419.7 97.7,419.1 98.1,418.6 98.6,418.0 99.0,417.5 99.5,417.0 99.9,416.4 100.3,415.9 100.8,415.3 101.2,414.8 101.7,414.3 102.1,413.7 102.5,413.2 103.0,412.7 103.4,412.1 103.9,411.6 104.3,411.0 104.7,410.5 105.1,410.0 105.5,409.5 105.9,409.0 106.3,408.5 106.7,408.0 107.1,407.4 107.5,406.9 107.9,406.4 108.3,405.9 108.7,405.4 109.1,404.9 109.6,404.4 110.0,403.9 110.5,403.4 110.9,402.9 111.3,402.4 111.8,401.9 112.2,401.5 112.7,401.0 113.1,400.5 113.5,400.1 114.0,399.6 114.5,399.0 115.0,398.5 115.4,398.0 115.9,397.5 116.3,397.0 116.7,396.5 117.1,396.1 117.5,395.7 118.1,395.2 118.6,394.9 119.0,394.7 119.5,394.5 120.0,394.2 120.4,393.8 120.9,393.4 121.4,392.9 121.8,392.5 122.3,391.9 122.8,391.4 123.3,390.9 123.8,390.4 124.3,389.9 124.8,389.4 125.3,389.0 125.8,388.5 126.3,388.0 126.7,387.6 127.2,387.1 127.6,386.6 128.0,386.1 128.4,385.7 128.8,385.2 129.2,384.9 129.8,384.3 130.3,383.9 130.9,383.5 131.4,383.3 132.0,383.4 132.6,383.6 133.1,384.1 133.4,384.6 133.6,385.1 133.9,385.6 134.2,386.3 134.4,387.0 134.7,387.8 134.9,388.4 135.0,389.0 135.2,389.6 135.4,390.2 135.5,390.9 135.7,391.6 135.9,392.3 136.1,393.1 136.2,393.8 136.4,394.6 136.5,395.1 136.7,395.8 136.8,396.4 136.9,397.1 137.1,397.8 137.2,398.5 137.3,399.2 137.5,399.9 137.6,400.5 137.7,401.2 137.8,401.8 138.0,402.4 138.1,402.9 138.3,403.7 138.5,404.5 138.7,405.2 138.9,405.9 139.0,406.5 139.2,407.1 139.4,407.6 139.6,408.1 139.7,408.4 140.2,409.2 140.6,409.1 140.8,409.2 140.9,409.0 141.1,408.5 141.3,407.9 141.4,407.2 141.6,406.4 141.8,405.5 141.9,405.0 142.0,404.4 142.1,403.8 142.2,403.2 142.3,402.5 142.4,401.8 142.4,401.1 142.5,400.4 142.6,399.7 142.7,399.0 142.8,398.2 142.9,397.6 143.0,396.9 143.1,396.3 143.2,395.5 143.3,394.8 143.4,394.0 143.5,393.3 143.7,392.6 143.8,391.9 143.9,391.2 144.0,390.6 144.1,389.9 144.3,389.4 144.4,388.8 144.6,388.0 144.9,387.3 145.2,386.7 145.4,386.2 145.7,385.6 146.1,385.1 146.4,384.5 146.8,383.9 147.2,383.3 147.6,382.8 148.0,382.4 148.5,381.9 148.9,381.5 149.3,381.0 149.7,380.6 150.0,380.1 150.4,379.6 150.7,379.2 151.1,378.7 151.4,378.2 151.8,377.7 152.2,377.2 152.5,376.7 152.9,376.2 153.2,375.7 153.6,375.2 153.9,374.6 154.3,374.1 154.7,373.5 155.0,373.0 155.4,372.5 155.7,371.9 156.1,371.4 156.4,370.9 156.8,370.4 157.2,369.7 157.5,369.1 157.9,368.6 158.2,367.9 158.6,367.3 158.9,366.7 159.3,366.1 159.7,365.5 160.0,365.0 160.4,364.5 160.7,363.9 161.1,363.4 161.4,362.8 161.8,362.3 162.2,361.8 162.5,361.3 162.9,360.9 163.3,360.3 163.7,359.8 164.0,359.4 164.4,359.0 164.8,358.4 165.2,357.9 165.7,357.4 166.1,356.8 166.5,356.3 166.9,355.9 167.3,355.4 167.7,354.8 168.2,354.4 168.6,354.1 169.0,353.6 169.4,353.2 169.9,352.9 170.4,352.2 170.9,351.7 171.4,351.6 171.9,351.2 172.4,350.8 172.9,350.5 173.4,350.1 173.9,349.7 174.4,349.3 174.9,348.9 175.4,348.6 175.9,348.4 176.4,348.2 176.9,347.8 177.5,347.3 178.2,347.0 178.8,346.9 179.4,346.5 180.0,346.3 180.7,346.2 181.3,346.2 181.9,345.9 182.5,345.5 183.2,345.3 183.8,345.3 184.4,345.1 185.0,344.7 185.6,344.5 186.2,344.6 186.9,344.5 187.5,344.5 188.2,344.6 188.9,344.5 189.6,344.4 190.3,344.5 191.0,344.3 191.6,344.1 192.3,344.0 192.9,343.8 193.6,343.6 194.2,343.5 194.7,343.3 195.3,343.1 195.9,343.0 196.5,342.6 197.0,342.2 197.6,342.1 198.3,341.9 198.9,341.7 199.4,341.4 200.0,341.0 200.4,340.9 200.9,340.6 201.3,339.8 201.7,339.3 202.1,338.9 202.5,338.5 202.9,338.0 203.2,337.6 203.6,337.2 203.9,336.6 204.3,335.8 204.6,335.2 205.0,334.7 205.4,334.2 205.7,333.6 206.1,333.1 206.4,332.6 206.8,332.0 207.1,331.4 207.5,331.1 207.9,330.5 208.3,329.7 208.7,329.2 209.2,328.9 209.6,328.3 210.0,327.7 210.5,327.3 211.0,327.0 211.6,326.3 212.1,325.7 212.6,325.5 213.1,325.2 213.6,324.8 214.1,324.5 214.6,324.3 215.1,323.9 215.7,323.5 216.3,323.4 217.0,323.2 217.6,323.1 218.2,322.9 218.8,322.7 219.4,322.5 220.1,322.7 220.7,322.7 221.4,322.6 222.0,322.9 222.7,323.2 223.4,323.1 224.1,323.0 224.8,323.2 225.4,323.5 226.1,323.6 226.8,323.7 227.5,324.2 228.1,324.6 228.8,324.8 229.4,324.9 230.1,325.1 230.7,325.4 231.2,325.5 231.8,325.5 232.4,325.7 232.9,326.1 233.5,326.3 234.1,326.4 234.6,326.4 235.2,326.7 235.7,327.0 236.2,327.4 236.8,327.6 237.4,327.6 238.0,327.8 238.5,328.3 239.1,328.8 239.7,329.2 240.2,329.4 240.8,329.7 241.3,330.0 241.8,330.4 242.3,330.7 242.7,331.1 243.2,331.6 243.7,332.3 244.1,332.8 244.4,332.9 244.8,333.3 245.2,333.6 245.5,333.3 245.9,332.8 246.3,332.5 246.9,332.5 247.5,332.5 248.1,332.1 248.8,331.9 249.5,331.8 250.2,331.8 250.9,331.8 251.5,331.7 252.2,331.8 252.9,331.9 253.6,332.0 254.2,332.1 254.9,332.2 255.6,332.2 256.3,332.4 257.0,332.7 257.7,332.9 258.3,333.2 258.9,333.3 259.5,333.2 260.2,333.4 260.8,333.6 261.3,333.7 261.9,333.8 262.6,334.0 263.3,334.3 264.0,334.7 264.6,334.8 265.3,334.9 265.9,335.0 266.4,335.2 267.0,335.5 267.6,336.0 268.1,336.5 268.6,336.9 269.2,337.1 269.7,337.3 270.1,337.5 270.6,338.0 271.1,338.3 271.6,338.4 272.2,338.7 272.7,339.3 273.2,339.6 273.6,339.7 274.1,339.3 274.5,338.3 274.8,338.0 275.1,338.7 275.3,339.4 275.5,339.9 275.8,340.3 276.2,341.0 276.7,341.6 277.3,341.9 277.7,342.1 278.1,342.5 278.6,342.7 279.2,342.7 280.0,342.8 280.5,343.1 281.1,343.4 281.7,343.5 282.4,343.4 283.1,343.5 283.8,343.9 284.5,344.1 285.1,344.2 285.8,344.4 286.4,344.4 287.1,344.3 287.7,344.5 288.3,344.9 289.0,345.2 289.6,345.1 290.2,345.0 290.9,345.0 291.5,345.1 292.1,345.2 292.8,345.4 293.4,345.6 294.1,345.9 294.7,346.2 295.4,346.2 296.0,346.3 296.7,346.4 297.3,346.7 297.9,346.9 298.6,346.7 299.2,346.7 299.9,347.0 300.5,347.2 301.2,347.2 301.8,347.5 302.5,347.7 303.1,348.0 303.7,348.1 304.3,348.0 304.8,348.1 305.4,348.3 306.0,348.7 306.6,349.1 307.2,349.3 307.7,349.7 308.3,350.2 308.9,350.5 309.5,350.9 310.0,351.2 310.6,351.4 311.2,351.5 311.7,351.8 312.3,352.4 312.9,352.7 313.5,352.9 314.0,353.3 314.6,353.8 315.2,354.1 315.8,354.3 316.3,354.6 316.9,354.9 317.5,355.3 318.1,355.7 318.7,356.1 319.2,356.3 319.8,356.6 320.4,357.0 321.0,357.4 321.6,357.9 322.1,358.2 322.7,358.3 323.3,358.6 323.9,358.9 324.5,359.2 325.0,359.4 325.6,359.6 326.2,359.8 326.8,360.1 327.5,360.5 328.1,360.9 328.8,361.0 329.4,361.0 330.1,361.2 330.7,361.4 331.4,361.8 332.0,362.2 332.6,362.3 333.3,362.2 334.0,362.2 334.6,362.5 335.3,362.8 335.9,362.7 336.6,362.4 337.1,362.4 337.7,362.6 338.4,362.8 339.1,362.6 339.7,362.4 340.3,362.3 340.9,362.2 341.6,361.9 342.2,361.8 342.9,361.8 343.5,361.8 344.2,361.5 344.9,361.6 345.7,362.0 346.4,362.1 347.0,361.9 347.6,361.9 348.3,362.0 349.0,362.4 349.6,362.8 350.3,362.8 351.0,362.8 351.6,363.3 352.2,363.5 352.9,363.4 353.6,363.1 354.3,363.0 355.0,363.1 355.7,363.2 356.3,363.1 357.0,362.8 357.6,362.6 358.2,362.5 358.8,362.4 359.4,362.1 360.0,361.9 360.6,361.8 361.2,361.7 361.8,361.6 362.3,361.4 362.9,361.0 363.5,360.7 364.0,360.4 364.6,360.1 365.1,359.7 365.6,359.2 366.1,358.9 366.6,358.8 367.2,358.5 367.7,357.9 368.2,357.2 368.7,356.7 369.1,356.3 369.6,355.8 370.0,355.5 370.5,355.1 370.9,354.5 371.3,354.1 371.7,353.8 372.1,353.5 372.5,353.1 372.9,352.8 373.3,352.2 373.8,351.4 374.2,350.9 374.6,350.5 375.0,350.0 375.5,349.5 376.0,349.1 376.5,348.9 377.0,348.3 377.5,347.6 378.0,347.2 378.5,346.8 379.0,346.5 379.5,346.3 380.0,345.9 380.5,345.6 381.0,345.4 381.5,345.1 382.0,344.8 382.6,344.6 383.2,344.5 383.9,344.3 384.6,344.2 385.3,344.1 385.9,344.2 386.6,344.3 387.2,344.5 387.8,344.8 388.4,344.9 389.0,345.0 389.6,344.8 390.2,344.4 390.9,344.1 391.5,344.2 392.2,344.2 392.9,344.3 393.6,344.3 394.3,344.1 395.0,343.9 395.6,343.7 396.3,343.6 396.9,343.6 397.6,343.6 398.3,343.5 399.0,343.6 399.7,343.4 400.4,343.0 401.0,343.1 401.6,343.6 402.1,343.8 402.5,343.9 403.0,344.6 403.5,345.4 404.0,345.9 404.5,346.3 405.0,346.6 405.5,346.9 406.0,347.0 406.6,346.9 407.2,346.9 407.9,347.1 408.5,347.3 409.2,347.5 409.8,347.8 410.5,348.1 411.0,348.0 411.7,347.9 412.3,347.4 412.8,347.2 413.3,347.2 413.8,346.8 414.4,346.3 414.7,346.0 415.1,345.4 415.4,345.1 415.8,344.7 416.2,344.0 416.5,343.6 416.9,343.2 417.3,342.8 417.6,342.2 418.0,341.7 418.3,341.1 418.7,340.6 419.0,340.0 419.4,339.3 419.8,338.8 420.2,338.3 420.7,337.8 421.1,337.2 421.5,336.6 421.9,336.1 422.5,335.5 423.2,335.0 423.8,334.7 424.4,334.5 425.0,334.3 425.7,334.5 426.3,334.9 426.9,334.9 427.5,334.8 428.2,335.0 428.8,335.3 429.4,335.5 429.9,335.5 430.3,335.5 430.7,335.0 431.1,334.4 431.4,334.3 431.7,334.1 432.0,333.5 432.2,332.7 432.5,331.9 432.8,331.3 433.1,330.9 433.3,330.3 433.6,329.5 433.9,328.9 434.1,328.4 434.4,327.6 434.6,327.1 434.8,326.5 435.0,325.7 435.2,325.1 435.4,324.6 435.6,324.0 435.8,323.2 436.0,322.5 436.1,321.8 436.3,321.1 436.4,320.4 436.6,319.8 436.7,319.2 436.9,318.5 437.0,318.0 437.3,317.3 437.5,316.8 437.8,316.5 438.4,316.7 439.0,316.8 439.4,316.3 439.8,315.8 440.3,315.4 440.7,315.0 441.1,314.7 441.5,314.5 442.0,314.0 442.5,313.5 443.0,313.3 443.5,312.9 444.0,312.5 444.5,312.1 445.0,311.6 445.5,311.0 445.9,310.7 446.2,310.6 446.6,310.0 446.8,309.2 447.0,308.6" fill="none" stroke="#3c3c3c" stroke-width="0.95" stroke-linejoin="round" stroke-linecap="round"/>
<!-- frame -->
<g stroke="#000" stroke-linecap="butt">
<line x1="59.5" y1="17.8" x2="59.5" y2="483.7" stroke-width="2.7"/>
<line x1="448.1" y1="17.7" x2="448.1" y2="483.7" stroke-width="2.75"/>
<line x1="58.15" y1="19" x2="449.48" y2="19" stroke-width="2.65"/>
<line x1="58.15" y1="482.15" x2="449.48" y2="482.15" stroke-width="3.1"/>
</g>
<g stroke="#000" stroke-width="2.6">
<line x1="59.45" y1="482" x2="59.45" y2="484.8"/>
<line x1="189.3" y1="482" x2="189.3" y2="484.8"/>
<line x1="318.8" y1="482" x2="318.8" y2="484.8"/>
<line x1="448.2" y1="482" x2="448.2" y2="484.8"/>
</g>
<text transform="translate(66.36,56.95) scale(1.020,1.004)" font-size="58">e</text>
<text transform="translate(284.42,78.95) scale(1.025,1.009)" font-size="24">SC10</text>
<text transform="translate(296.59,165.95) scale(0.969,1.009)" font-size="24">SC8</text>
<text transform="translate(294.30,248.25) scale(0.962,0.991)" font-size="24">SC6</text>
<text transform="translate(299.98,339.85) scale(0.973,1.009)" font-size="24">SC4</text>
<text transform="translate(123.13,434.93) scale(1.026,1.071)" font-size="24">875</text>
<text transform="translate(226.18,358.54) scale(1.056,1.028)" font-size="24">710</text>
<text transform="translate(332.67,389.64) scale(1.032,1.046)" font-size="24">547</text>
<text transform="translate(392.85,380.05) scale(0.989,1.009)" font-size="24">454</text>
<text transform="translate(412.25,359.20) scale(0.987,1.025)" font-size="24">427</text>
<text transform="translate(37.62,503.84) scale(1.019,1.020)" font-size="22">1000</text>
<text transform="translate(172.84,503.64) scale(1.019,1.020)" font-size="22">800</text>
<text transform="translate(302.44,503.64) scale(1.016,1.020)" font-size="22">600</text>
<text transform="translate(432.35,503.65) scale(1.003,1.007)" font-size="22">400</text>
<text transform="translate(136.20,534.60) scale(0.982,1.000)" font-size="25">Wavenumbers(cm</text>
<text transform="translate(329.16,529.60) scale(1.156,1.600)" font-size="24">−</text>
<text transform="translate(345.00,522.90) scale(0.800,0.969)" font-size="24">1</text>
<text transform="translate(355.85,533.90) scale(1.138,0.971)" font-size="25">)</text>
<text transform="translate(48.7,378.5) rotate(-90)" font-size="27" letter-spacing="0.36">Transmittance (%)</text>
</svg>
</body></html>
